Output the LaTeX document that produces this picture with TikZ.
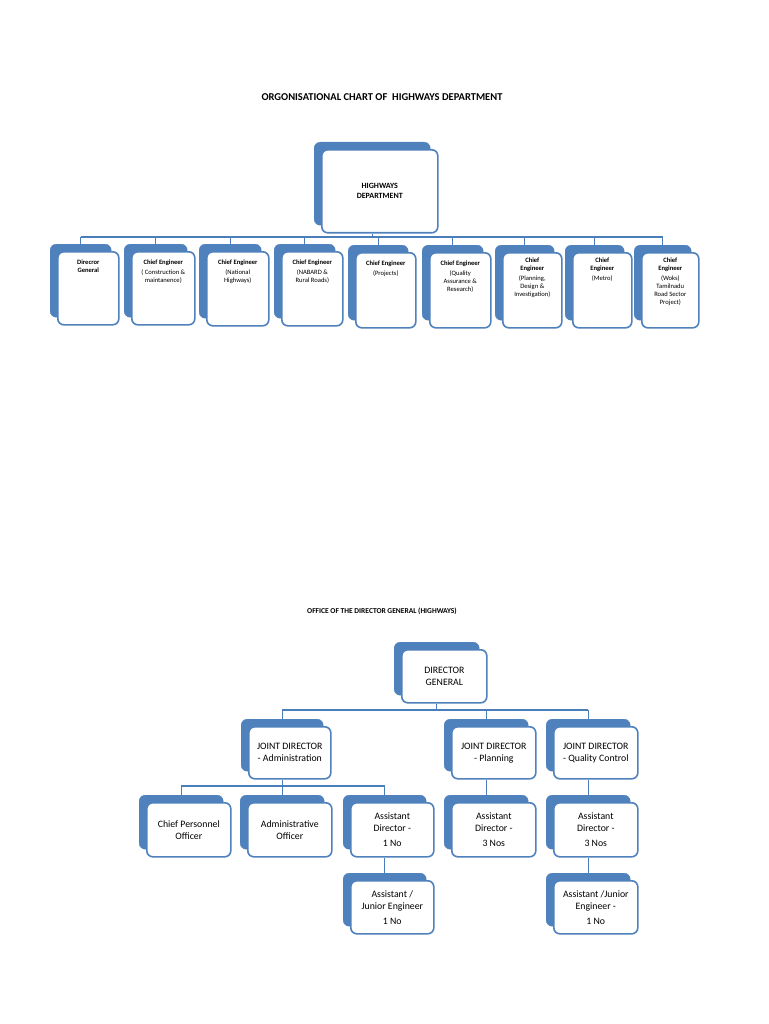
\documentclass[tikz,border=0pt]{standalone}
\usepackage{fontspec}
\setmainfont{Carlito}
\definecolor{bl}{HTML}{4F81BD}
\definecolor{ln}{HTML}{4A7EBB}
\tikzset{
  backbox/.style={fill=bl,draw=bl,rounded corners=6pt,anchor=north west,inner sep=0pt},
  frontbox/.style={fill=white,draw=bl,line width=1.6pt,rounded corners=6pt,anchor=north west,inner sep=0pt},
  conn/.style={draw=ln,line width=1.4pt},
  toptxt/.style={font=\bfseries\fontsize{6.6}{8}\selectfont,align=center,anchor=north},
  bottxt/.style={font=\fontsize{9.8}{12}\selectfont,align=center},
}
% \obox{name}{x}{y}{w}{h}
\newcommand{\obox}[5]{%
  \node[backbox,minimum width=#4pt,minimum height=#5pt] (#1b) at ({#2-7},{#3-7}) {};
  \node[frontbox,minimum width=#4pt,minimum height=#5pt] (#1) at (#2,#3) {};}
\begin{document}
\begin{tikzpicture}[x=1pt,y=-1pt]
\useasboundingbox[fill=white] (0,0) rectangle (768,1024);
\node[font=\bfseries\fontsize{10.5}{12}\selectfont] (t1) at (382,97) {ORGONISATIONAL CHART OF\ \ HIGHWAYS DEPARTMENT};
\obox{hd}{321}{149}{116}{83}
\node[font=\bfseries\fontsize{8}{10}\selectfont,align=center] (hdt) at (hd.center) {HIGHWAYS\\DEPARTMENT};
\obox{c1}{57}{251}{61}{73}
\obox{c2}{131}{251}{63}{73}
\obox{c3}{206}{251}{62}{74}
\obox{c4}{281}{251}{61}{74}
\obox{c5}{355}{252}{60}{75}
\obox{c6}{429}{252}{61}{75}
\obox{c7}{502}{252}{59}{75}
\obox{c8}{572}{252}{59}{75}
\obox{c9}{641}{252}{57}{75}
\node[toptxt] (c1t) at ([yshift=-5pt]c1.north) {Direcror\\General};
\node[toptxt] (c2t) at ([yshift=-5pt]c2.north) {Chief Engineer\\[2pt]\mdseries( Construction \&\\\mdseries maintanence)};
\node[toptxt] (c3t) at ([yshift=-5pt]c3.north) {Chief Engineer\\[2pt]\mdseries(National\\\mdseries Highways)};
\node[toptxt] (c4t) at ([yshift=-5pt]c4.north) {Chief Engineer\\[2pt]\mdseries(NABARD \&\\\mdseries Rural Roads)};
\node[toptxt] (c5t) at ([yshift=-5pt]c5.north) {Chief Engineer\\[2pt]\mdseries(Projects)};
\node[toptxt] (c6t) at ([yshift=-5pt]c6.north) {Chief Engineer\\[2pt]\mdseries(Quality\\\mdseries Assurance \&\\\mdseries Research)};
\node[toptxt] (c7t) at ([yshift=-2pt]c7.north) {Chief\\Engineer\\[2pt]\mdseries(Planning,\\\mdseries Design \&\\\mdseries Investigation)};
\node[toptxt] (c8t) at ([yshift=-2pt]c8.north) {Chief\\Engineer\\[2pt]\mdseries(Metro)};
\node[toptxt] (c9t) at ([yshift=-2pt]c9.north) {Chief\\Engineer\\[2pt]\mdseries(Woks)\\\mdseries Tamilnadu\\\mdseries Road Sector\\\mdseries Project)};
\coordinate (bus1) at (0,237);
\draw[conn] (hd.south -| hdb.south) -- (hdb.south |- bus1);
\draw[conn] (c1b.north |- bus1) -- (c9b.north |- bus1);
\foreach \i in {1,...,9} {\draw[conn] (c\i b.north |- bus1) -- (c\i b.north);}
% bottom chart
\node[font=\bfseries\fontsize{7.5}{9}\selectfont] (t2) at (382,611) {OFFICE OF THE DIRECTOR GENERAL (HIGHWAYS)};
\obox{dg}{401}{649}{85}{53}
\obox{ja}{248}{726}{82}{52}
\obox{jp}{451}{726}{84}{52}
\obox{jq}{553}{726}{84}{52}
\obox{cp}{146}{802}{84}{54}
\obox{ao}{247}{802}{84}{54}
\obox{a1}{350}{802}{83}{54}
\obox{a3}{451}{802}{84}{54}
\obox{aq}{553}{802}{84}{54}
\obox{e1}{350}{880}{83}{53}
\obox{eq}{553}{880}{84}{53}
\node[bottxt] (dgt) at (dg.center) {DIRECTOR\\GENERAL};
\node[bottxt] (jat) at (ja.center) {JOINT DIRECTOR\\- Administration};
\node[bottxt] (jpt) at (jp.center) {JOINT DIRECTOR\\- Planning};
\node[bottxt] (jqt) at (jq.center) {JOINT DIRECTOR\\- Quality Control};
\node[bottxt] (cpt) at (cp.center) {Chief Personnel\\Officer};
\node[bottxt] (aot) at (ao.center) {Administrative\\Officer};
\node[bottxt] (a1t) at (a1.center) {Assistant\\Director -\\[3pt]1 No};
\node[bottxt] (a3t) at (a3.center) {Assistant\\Director -\\[3pt]3 Nos};
\node[bottxt] (aqt) at (aq.center) {Assistant\\Director -\\[3pt]3 Nos};
\node[bottxt] (e1t) at (e1.center) {Assistant /\\Junior Engineer\\[3pt]1 No};
\node[bottxt] (eqt) at (eq.center) {Assistant /Junior\\Engineer -\\[3pt]1 No};
\coordinate (bus2) at (0,710);
\draw[conn] (dg.south -| dgb.south) -- (dgb.south |- bus2);
\draw[conn] (jab.north |- bus2) -- (jqb.north |- bus2);
\foreach \n in {ja,jp,jq} {\draw[conn] (\n b.north |- bus2) -- (\n b.north);}
\coordinate (bus3) at (0,786);
\draw[conn] (ja.south -| jab.south) -- (jab.south |- bus3);
\draw[conn] (cpb.north |- bus3) -- (a1b.north |- bus3);
\foreach \n in {cp,ao,a1} {\draw[conn] (\n b.north |- bus3) -- (\n b.north);}
\draw[conn] (jp.south -| jpb.south) -- (a3b.north);
\draw[conn] (jq.south -| jqb.south) -- (aqb.north);
\draw[conn] (a1.south -| a1b.south) -- (e1b.north);
\draw[conn] (aq.south -| aqb.south) -- (eqb.north);
\end{tikzpicture}
\end{document}
